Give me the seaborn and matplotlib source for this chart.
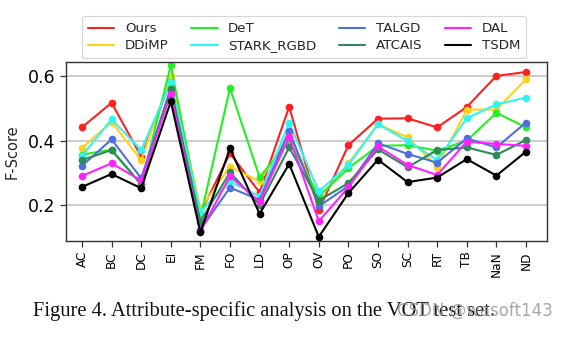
import matplotlib
matplotlib.use("Agg")
import matplotlib.pyplot as plt
import seaborn as sns
import pandas as pd

attributes = ["AC", "BC", "DC", "EI", "FM", "FO", "LD", "OP", "OV", "PO", "SO", "SC", "RT", "TB", "NaN", "ND"]

ours      = [0.441, 0.517, 0.351, 0.585, 0.176, 0.361, 0.240, 0.505, 0.185, 0.386, 0.468, 0.469, 0.441, 0.504, 0.600, 0.612]
ddimp     = [0.377, 0.458, 0.340, 0.600, 0.190, 0.320, 0.274, 0.420, 0.220, 0.330, 0.451, 0.410, 0.320, 0.496, 0.496, 0.590]
det       = [0.357, 0.372, 0.265, 0.633, 0.163, 0.562, 0.287, 0.400, 0.228, 0.315, 0.384, 0.386, 0.369, 0.400, 0.486, 0.441]
stark     = [0.353, 0.466, 0.371, 0.580, 0.180, 0.274, 0.228, 0.455, 0.243, 0.325, 0.451, 0.399, 0.340, 0.469, 0.512, 0.533]
talgd     = [0.322, 0.404, 0.284, 0.561, 0.125, 0.255, 0.217, 0.431, 0.197, 0.260, 0.392, 0.359, 0.332, 0.407, 0.379, 0.456]
atcais    = [0.340, 0.371, 0.265, 0.560, 0.150, 0.302, 0.202, 0.379, 0.215, 0.269, 0.373, 0.318, 0.371, 0.379, 0.356, 0.402]
dal       = [0.291, 0.330, 0.277, 0.545, 0.120, 0.290, 0.212, 0.412, 0.151, 0.256, 0.382, 0.325, 0.294, 0.397, 0.390, 0.384]
tsdm      = [0.257, 0.297, 0.253, 0.521, 0.117, 0.376, 0.174, 0.328, 0.103, 0.238, 0.341, 0.272, 0.286, 0.343, 0.292, 0.366]

methods = ["Ours", "DDiMP", "DeT", "STARK_RGBD", "TALGD", "ATCAIS", "DAL", "TSDM"]
series = [ours, ddimp, det, stark, talgd, atcais, dal, tsdm]
colors = ["#ff2020", "#ffd21a", "#22f022", "#33f3f3", "#4f6fe0", "#2e8b57", "#ff22ff", "#000000"]

rows = []
for m, vals in zip(methods, series):
    for a, v in zip(attributes, vals):
        rows.append({"Attribute": a, "Method": m, "F-Score": v})
df = pd.DataFrame(rows)

sns.set_style("white")
plt.rcParams["font.family"] = ["DejaVu Sans"]

fig = plt.figure(figsize=(5.69, 3.38), dpi=100)
ax = fig.add_axes([65.7 / 569, 1 - 240.7 / 338, (546.7 - 65.7) / 569, (240.7 - 62.3) / 338])

sns.lineplot(data=df, x="Attribute", y="F-Score", hue="Method", hue_order=methods,
             palette=dict(zip(methods, colors)), marker="o", markersize=5.5,
             markeredgewidth=0, linewidth=1.5, sort=False, ax=ax, legend=True)

ax.set_ylim(0.091, 0.642)
ax.set_xlim(-0.55, 15.7)
ax.set_yticks([0.2, 0.4, 0.6])
ax.set_yticklabels(["0.2", "0.4", "0.6"], fontsize=12.5)
ax.set_xticks(range(len(attributes)))
ax.set_xticklabels(attributes, rotation=90, fontsize=8.7)
ax.set_xlabel("")
ax.set_ylabel("F-Score", fontsize=10.5)
ax.yaxis.set_label_coords(-0.095, 0.5)
ax.grid(axis="y", color="#c4c4c4", linewidth=1.2)
ax.grid(axis="x", visible=False)
ax.tick_params(axis="both", direction="out", length=4, width=0.9, colors="#333333", labelcolor="black", bottom=True, left=True)
for s in ax.spines.values():
    s.set_color("#333333")
    s.set_linewidth(1.0)

handles, labels = ax.get_legend_handles_labels()
ax.legend_.remove()
leg = fig.legend(handles, labels, ncol=4, loc="upper left",
                 bbox_to_anchor=(75 / 569, 1 - 13 / 338, (533 - 75) / 569, 0.01),
                 mode="expand", fontsize=9.6, frameon=True, handlelength=2.0,
                 columnspacing=1.5, borderpad=0.45, labelspacing=0.3, handletextpad=0.8)
for h in leg.legend_handles:
    h.set_marker("")
leg.get_frame().set_edgecolor("#cccccc")
leg.get_frame().set_linewidth(0.8)

fig.text(33 / 569, 1 - 311 / 338, "Figure 4. Attribute-specific analysis on the VOT test set.",
         family="Liberation Serif", fontsize=14.8, va="center", ha="left", color="#111111")
fig.text(397 / 569, 1 - 311 / 338, "CSDN @wasoft143", family="DejaVu Sans", fontsize=12,
         va="center", ha="left", color="#999999", alpha=0.85)

fig.savefig("out.png", dpi=100)
